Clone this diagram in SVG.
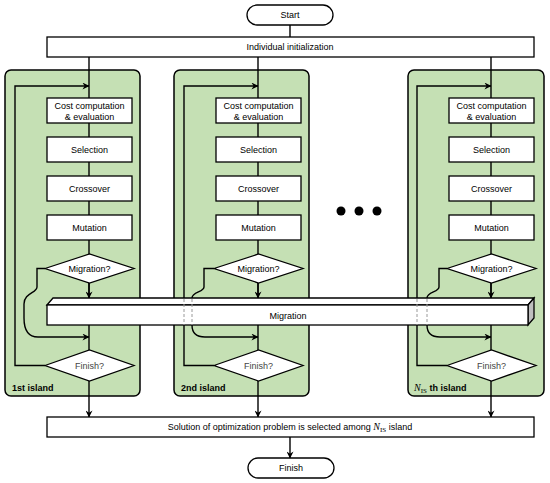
<svg xmlns="http://www.w3.org/2000/svg" width="550" height="483" viewBox="0 0 550 483">
<style>
text{font-family:"Liberation Sans",Arial,sans-serif;font-size:9px;fill:#000;text-anchor:middle}
.isl{fill:#c5e0b4;stroke:#000;stroke-width:1.5}
.box{fill:#fff;stroke:#000;stroke-width:1.3}
.ln{fill:none;stroke:#000;stroke-width:1.4}
.hid{fill:none;stroke:#9a9a9a;stroke-width:1;stroke-dasharray:3,2}
.lab{font-weight:bold;text-anchor:start}
.fin{fill:#444}
</style>
<defs>
<marker id="ah" viewBox="0 0 8 8" refX="7.5" refY="4" markerWidth="7" markerHeight="7" markerUnits="userSpaceOnUse" orient="auto">
<path d="M0,0 L8,4 L0,8 L2.5,4 z" fill="#000"/>
</marker>
</defs>

<g id="island1-bg"><rect class="isl" x="5" y="70" width="135" height="326" rx="6"/><text class="lab" x="12" y="391">1st island</text></g>
<g id="island2-bg"><rect class="isl" x="174" y="70" width="135" height="326" rx="6"/><text class="lab" x="181" y="391">2nd island</text></g>
<g id="island3-bg"><rect class="isl" x="408" y="70" width="136" height="326" rx="6"/><text class="lab" x="414" y="391"><tspan font-family="Liberation Serif" font-style="italic" font-weight="normal" font-size="10">N</tspan><tspan font-family="Liberation Serif" font-weight="normal" font-size="7" dy="2">IS</tspan><tspan dy="-2"> th island</tspan></text></g>

<g id="connectors">
<line class="ln" x1="290" y1="25" x2="290" y2="37"/>
<line class="ln" x1="89" y1="57" x2="89" y2="350"/>
<line class="ln" x1="258" y1="57" x2="258" y2="350"/>
<line class="ln" x1="491" y1="57" x2="491" y2="350"/>
<path class="ln" d="M45,365.5 H15 V86 H89" marker-end="url(#ah)"/>
<path class="ln" d="M214,365.5 H184 V86 H258" marker-end="url(#ah)"/>
<path class="ln" d="M447,365.5 H417 V86 H491" marker-end="url(#ah)"/>
<path class="ln" d="M45,268.5 H37 V287 C37,293 24,293 24,304 V318 C24,331 29,337 38,337 H89" marker-end="url(#ah)"/>
<path class="ln" d="M214,268.5 H204 V287 C204,292 192,292 192,298 V325 C192,333 196,337 205,337 H258" marker-end="url(#ah)"/>
<path class="ln" d="M447,268.5 H439 V287 C439,292 427,292 427,298 V325 C427,333 431,337 440,337 H491" marker-end="url(#ah)"/>
<line class="ln" x1="89" y1="283" x2="89" y2="298" marker-end="url(#ah)"/>
<line class="ln" x1="258" y1="283" x2="258" y2="298" marker-end="url(#ah)"/>
<line class="ln" x1="491" y1="283" x2="491" y2="298" marker-end="url(#ah)"/>
<line class="ln" x1="89" y1="381" x2="89" y2="417" marker-end="url(#ah)"/>
<line class="ln" x1="258" y1="381" x2="258" y2="417" marker-end="url(#ah)"/>
<line class="ln" x1="491" y1="381" x2="491" y2="417" marker-end="url(#ah)"/>
<line class="ln" x1="290" y1="437" x2="290" y2="458" marker-end="url(#ah)"/>
</g>

<g id="start"><rect class="box" x="247" y="5" width="86" height="20" rx="10"/><text x="290" y="18">Start</text></g>
<g id="init"><rect class="box" x="47" y="37" width="487" height="20"/><text x="290" y="50">Individual initialization</text></g>

<g id="island1-nodes">
<rect class="box" x="47" y="98" width="85" height="25"/><text x="89.5" y="109">Cost computation</text><text x="89.5" y="120">&amp; evaluation</text>
<rect class="box" x="47" y="137" width="85" height="25"/><text x="89.5" y="153">Selection</text>
<rect class="box" x="47" y="176" width="85" height="25"/><text x="89.5" y="192">Crossover</text>
<rect class="box" x="47" y="215" width="85" height="25"/><text x="89.5" y="231">Mutation</text>
<polygon class="box" points="45,268.5 89.5,254 134,268.5 89.5,283"/><text x="89.5" y="272">Migration?</text>
<polygon class="box" points="45,365.5 89.5,350 134,365.5 89.5,381"/><text class="fin" x="89.5" y="369">Finish?</text>
</g>
<g id="island2-nodes">
<rect class="box" x="216" y="98" width="85" height="25"/><text x="258.5" y="109">Cost computation</text><text x="258.5" y="120">&amp; evaluation</text>
<rect class="box" x="216" y="137" width="85" height="25"/><text x="258.5" y="153">Selection</text>
<rect class="box" x="216" y="176" width="85" height="25"/><text x="258.5" y="192">Crossover</text>
<rect class="box" x="216" y="215" width="85" height="25"/><text x="258.5" y="231">Mutation</text>
<polygon class="box" points="214,268.5 258.5,254 303,268.5 258.5,283"/><text x="258.5" y="272">Migration?</text>
<polygon class="box" points="214,365.5 258.5,350 303,365.5 258.5,381"/><text class="fin" x="258.5" y="369">Finish?</text>
</g>
<g id="island3-nodes">
<rect class="box" x="449" y="98" width="85" height="25"/><text x="491.5" y="109">Cost computation</text><text x="491.5" y="120">&amp; evaluation</text>
<rect class="box" x="449" y="137" width="85" height="25"/><text x="491.5" y="153">Selection</text>
<rect class="box" x="449" y="176" width="85" height="25"/><text x="491.5" y="192">Crossover</text>
<rect class="box" x="449" y="215" width="85" height="25"/><text x="491.5" y="231">Mutation</text>
<polygon class="box" points="447,268.5 491.5,254 536,268.5 491.5,283"/><text x="491.5" y="272">Migration?</text>
<polygon class="box" points="447,365.5 491.5,350 536,365.5 491.5,381"/><text class="fin" x="491.5" y="369">Finish?</text>
</g>

<g id="dots"><circle cx="341" cy="211" r="4.5"/><circle cx="359" cy="211" r="4.5"/><circle cx="377" cy="211" r="4.5"/></g>

<g id="migration">
<polygon class="box" points="47,305 53,298 534,298 528,305"/>
<polygon class="box" points="528,305 534,298 534,318 528,325" style="fill:#bfbfbf"/>
<rect class="box" x="47" y="305" width="481" height="20"/>
<text x="288" y="319">Migration</text>
<line class="hid" x1="184" y1="299" x2="184" y2="325"/>
<line class="hid" x1="192" y1="299" x2="192" y2="325"/>
<line class="hid" x1="417" y1="299" x2="417" y2="325"/>
<line class="hid" x1="427" y1="299" x2="427" y2="325"/>
</g>

<g id="solution"><rect class="box" x="47" y="417" width="487" height="20"/><text x="290" y="430">Solution of optimization problem is selected among <tspan font-family="Liberation Serif" font-style="italic" font-size="10">N</tspan><tspan font-family="Liberation Serif" font-size="7" dy="2">IS</tspan><tspan dy="-2"> island</tspan></text></g>
<g id="finish"><rect class="box" x="248" y="458" width="86" height="20" rx="10"/><text x="291" y="471">Finish</text></g>
</svg>
